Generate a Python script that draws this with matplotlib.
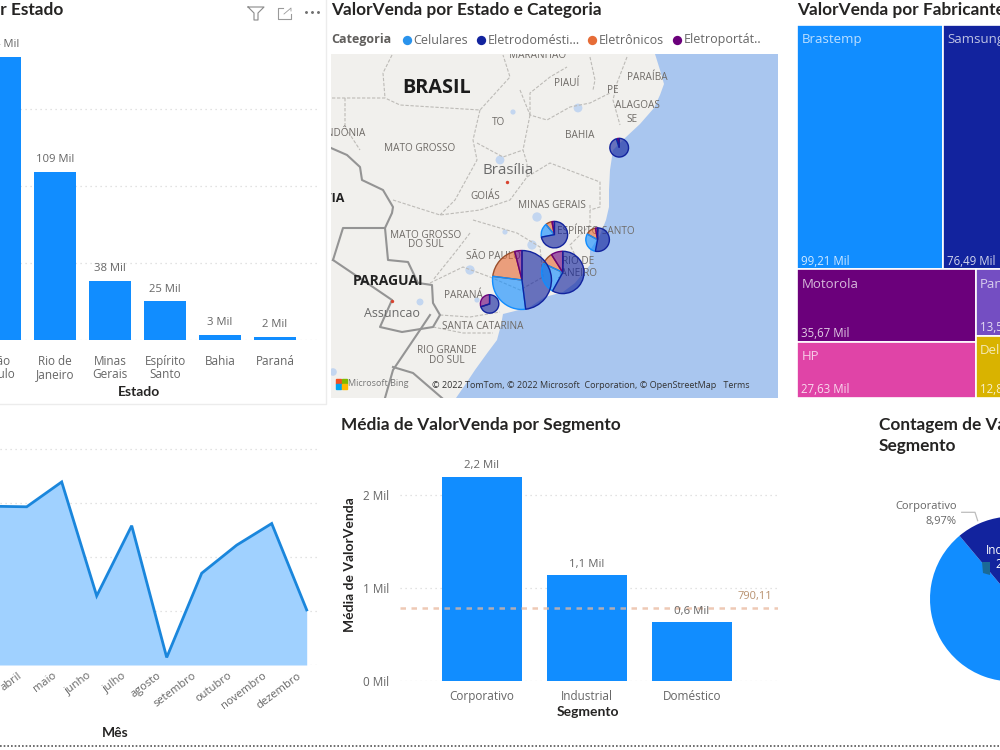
#!/usr/bin/env python3
import matplotlib
matplotlib.use('Agg')  # no GUI
import matplotlib.pyplot as plt
from matplotlib.patches import Polygon, Rectangle

plt.rcParams['font.family'] = ['Open Sans', 'DejaVu Sans']

# -----------------------------
# Data
# -----------------------------
estados = ['São\nPaulo', 'Rio de\nJaneiro', 'Minas\nGerais', 'Espírito\nSanto', 'Bahia', 'Paraná']
estado_valor = [183.6, 109, 38, 25, 3, 2]
estado_rotulo = ['184 Mil', '109 Mil', '38 Mil', '25 Mil', '3 Mil', '2 Mil']

categorias = ['Celulares', 'Eletrodomésti...', 'Eletrônicos', 'Eletroportát..']

# state capitals (lon, lat) and share of each category, in percent
mapa_lon = [-46.6, -43.2, -43.9, -40.3, -38.5, -49.3]
mapa_lat = [-23.5, -22.9, -19.9, -20.3, -13.0, -25.4]
celulares = [29, 24, 17, 30, 1, 0]
eletrodomesticos = [48, 58, 72, 53, 95, 70]
eletronicos = [19, 9, 8, 14, 1, 0]
eletroportateis = [4, 9, 3, 3, 3, 30]

fabricantes = ['Brastemp', 'Samsung', 'Motorola', 'HP', 'Panasonic', 'Dell']
fabricante_valor = [99.21, 76.49, 35.67, 27.63, 13.54, 12.81]
fabricante_rotulo = ['99,21 Mil', '76,49 Mil', '35,67 Mil', '27,63 Mil', '13,54 Mil', '12,81 Mil']

meses = ['março', 'abril', 'maio', 'junho', 'julho', 'agosto', 'setembro', 'outubro', 'novembro', 'dezembro']
mes_valor = [29.4, 29.3, 33.9, 12.8, 25.8, 1.4, 17.0, 22.2, 26.2, 10.2]
mes_grade = [0, 10, 20, 30, 40]

segmentos = ['Corporativo', 'Industrial', 'Doméstico']
segmento_media = [2197, 1140, 634]
segmento_rotulo = ['2,2 Mil', '1,1 Mil', '0,6 Mil']
media_geral = 790.11

contagem_segmentos = ['Doméstico', 'Corporativo', 'Industrial']
contagem_pct = [88.90, 8.97, 2.13]

# -----------------------------
# Styles
# -----------------------------
W, H = 1000, 750
AZUL = '#118dff'
NAVY = '#12239e'
LARANJA = '#e66c37'
ROXO = '#6b007b'
CINZA = '#666666'
GRADE = '#d9d9d9'
TITULO = '#252423'
fab_cores = [AZUL, NAVY, ROXO, '#e044a7', '#744ec2', '#d9b300']
TITLE_FONT = dict(family='Lato', fontsize=12.4, fontweight='bold', color=TITULO, va='center')
AXIS_FONT = dict(family='Lato', fontsize=10, fontweight='bold', color=TITULO, ha='center', va='center')

fig = plt.figure(figsize=(W / 100, H / 100), dpi=100, facecolor='white')


def px_axes(left, top, right, bottom, **kw):
    # axes placed from pixel coordinates of the picture
    return fig.add_axes([left / W, 1 - bottom / H, (right - left) / W, (bottom - top) / H], **kw)


def clean(ax):
    for s in ax.spines.values():
        s.set_visible(False)
    ax.tick_params(length=0, labelcolor=CINZA, labelsize=8.5)
    ax.set_facecolor('none')


page = px_axes(0, 0, W, H, zorder=5)
page.set_xlim(0, W)
page.set_ylim(H, 0)
page.axis('off')

# -----------------------------
# ValorVenda por Estado
# -----------------------------
ax = px_axes(0, 40, 320, 340)
clean(ax)
pos = list(range(len(estados)))
bars = ax.bar(pos, estado_valor, width=0.775, color=AZUL, zorder=2)
ax.bar_label(bars, labels=estado_rotulo, padding=5, fontsize=8.1, color=CINZA)
ax.set_xlim(0, 320 / 55)
ax.set_ylim(0, 300 / 1.541)
ax.set_xticks(pos, estados, linespacing=1.05)
ax.tick_params(axis='x', pad=10.5)
ax.set_yticks([0, 50, 100, 150], [])
ax.grid(axis='y', color=GRADE, linestyle=(0, (1, 3)), linewidth=0.9, zorder=0)
page.text(63, 9.5, 'ValorVenda por Estado', ha='right', **TITLE_FONT)
page.text(139, 391.5, 'Estado', **AXIS_FONT)

# card border and header icons
page.plot([325.5, 325.5, 0], [0, 403.5, 403.5], color='#ececec', lw=1)
page.plot([248, 264, 258, 258, 254, 254, 248], [7, 7, 13, 20, 20, 13, 7], color='#8a8a8a', lw=0.8)
page.plot([283, 278, 278, 291, 291], [8, 8, 19, 19, 14], color='#9a9a9a', lw=0.8)
page.plot([284, 291, 291], [14, 8, 11], color='#9a9a9a', lw=0.6)
page.scatter([306, 312, 318], [12, 12, 12], s=1.2, color='#707070')

# -----------------------------
# ValorVenda por Estado e Categoria
# -----------------------------
page.text(331, 9.5, 'ValorVenda por Estado e Categoria', ha='left', **TITLE_FONT)
page.text(331, 40, 'Categoria', family='Open Sans', fontsize=9, fontweight='bold', color='#605e5c', va='center')
leg_x = [406.7, 480.7, 591.7, 677]
for lx, nome, cor in zip(leg_x, categorias, ['#2a93ec', NAVY, LARANJA, ROXO]):
    page.scatter([lx], [40], s=45, color=cor, linewidths=0)
    page.text(lx + 7, 40, nome, fontsize=9, color=CINZA, va='center')

mp = px_axes(331, 54, 778, 398, zorder=2)
mp.set_facecolor('#a9c6ef')
costa = [(655, 54), (660, 70), (664, 84), (660, 95), (654, 108), (640, 124), (625, 138), (613, 150),
         (610, 170), (609, 190), (609, 207), (606, 220), (600, 235), (590, 250), (590, 265), (575, 283),
         (563, 292), (545, 297), (530, 307), (515, 311), (503, 314), (501, 325), (497, 340), (488, 352),
         (475, 370), (465, 385), (456, 398), (331, 398), (331, 54)]
mp.add_patch(Polygon(costa, closed=True, facecolor='#f1f0ed', edgecolor='none'))

# lakes and rivers
mp.scatter([513, 500, 578, 537, 532, 470, 420, 505, 477, 333],
           [112, 160, 108, 217, 245, 270, 302, 232, 300, 372],
           s=[14, 40, 40, 45, 45, 45, 25, 14, 14, 30], color='#c3d6f0', linewidths=0, zorder=2)

estaduais = [
    [(332, 98), (385, 98), (400, 105), (480, 110), (510, 77), (503, 55)],
    [(392, 55), (383, 73), (385, 98)],
    [(345, 98), (345, 127), (360, 150)],
    [(480, 110), (473, 140), (477, 160), (455, 200), (440, 215)],
    [(530, 115), (523, 150), (527, 163), (527, 177)],
    [(477, 143), (503, 157), (523, 150)],
    [(520, 90), (530, 115), (547, 120), (570, 107), (590, 103), (610, 93)],
    [(530, 115), (530, 93), (550, 77), (567, 67)],
    [(590, 57), (595, 80), (593, 90)],
    [(627, 57), (617, 83), (613, 100), (620, 125)],
    [(527, 177), (550, 163), (600, 182), (600, 207), (590, 210)],
    [(393, 200), (440, 215), (480, 210), (510, 200), (527, 177)],
    [(470, 233), (457, 250), (433, 280)],
    [(430, 283), (463, 267), (490, 277)],
    [(440, 315), (470, 317), (500, 312)],
    [(433, 327), (463, 333), (493, 333)],
    [(590, 205), (590, 225), (570, 245), (575, 255)],
    [(473, 220), (517, 233), (540, 247), (543, 277)],
    [(490, 277), (520, 290), (543, 277)],
]
for linha in estaduais:
    mp.plot(*zip(*linha), color='#bdbbb7', lw=0.8, linestyle=(0, (3, 1.5)), zorder=3)

fronteiras = [
    [(331, 148), (347, 155), (360, 167), (362, 180), (383, 190), (393, 207), (392, 213), (385, 228), (343, 228), (333, 260)],
    [(333, 260), (367, 283), (392, 300), (380, 327), (402, 332), (433, 327), (440, 315), (433, 303), (432, 285), (418, 283),
     (408, 262), (388, 260), (385, 228)],
    [(430, 315), (420, 330), (393, 370), (385, 398)],
    [(393, 367), (413, 373), (442, 398)],
]
for linha in fronteiras:
    mp.plot(*zip(*linha), color='#949494', lw=1.5, zorder=3)

rotulos_mapa = [
    ('MARANHÃO', 538, 56), ('PARAÍBA', 647.7, 78), ('PIAUÍ', 567, 84), ('PE', 613, 90.7), ('ALAGOAS', 637.7, 105),
    ('SE', 631.7, 120), ('TO', 499, 122.7), ('BAHIA', 580, 136), ('MATO GROSSO', 420, 148.7), ('GOIÁS', 485, 196.7),
    ('MINAS GERAIS', 552, 205), ('MATO GROSSO', 426, 235), ('DO SUL', 426, 245), ('SÃO PAULO', 493, 256.7),
    ('ESPÍRITO SANTO', 595.7, 231.7), ('RIO DE', 578, 261.7), ('JANEIRO', 578, 273), ('PARANÁ', 463, 296),
    ('SANTA CATARINA', 483, 326.7), ('RIO GRANDE', 446.7, 351), ('DO SUL', 446.7, 361),
]
for nome, x, y in rotulos_mapa:
    mp.text(x, y, nome, fontsize=7.2, fontweight='medium', color='#6e6a66', ha='center', va='center', clip_on=True, zorder=4)
mp.text(365, 134, 'RONDÔNIA', fontsize=7.2, color='#6e6a66', ha='right', va='center', clip_on=True, zorder=4)
mp.text(345, 198, 'BOLÍVIA', fontsize=9, fontweight='bold', color='#222222', ha='right', va='center', clip_on=True, zorder=4)
mp.text(436.7, 88, 'BRASIL', fontsize=14.3, fontweight='bold', color='#1c1c1c', ha='center', va='center', zorder=4)
mp.text(388, 280.7, 'PARAGUAI', fontsize=10, fontweight='bold', color='#222222', ha='center', va='center', zorder=4)
mp.text(507.7, 170, 'Brasília', fontsize=10.8, color='#6a6a6a', ha='center', va='center', zorder=4)
mp.text(391.7, 314, 'Assuncao', fontsize=9, color='#6a6a6a', ha='center', va='center', zorder=4)
mp.scatter([507, 392], [182, 301], s=6, color='#d8432f', linewidths=0, zorder=4)

# y axis is inverted here, so this start and direction run clockwise from the top on screen
pie_alpha = 0.62
cores = [NAVY, AZUL, LARANJA, ROXO]
bordas = [NAVY, AZUL, '#9a4f2c', ROXO]
for i in range(len(mapa_lon)):
    cx = 522 + 12.0 * (mapa_lon[i] + 46.6)
    cy = 280 - 12.6 * (mapa_lat[i] + 23.5)
    raio = 9 + 0.1115 * estado_valor[i]
    shares = [eletrodomesticos[i], celulares[i], eletronicos[i], eletroportateis[i]]
    wedges, _ = mp.pie(shares, colors=cores, center=(cx, cy), radius=raio, startangle=270,
                       counterclock=True, frame=True, wedgeprops=dict(linewidth=0))
    for w in wedges:
        w.set_zorder(6)
        w.set_alpha(pie_alpha)
    edges, _ = mp.pie(shares, colors=['none'] * 4, center=(cx, cy), radius=raio, startangle=270,
                      counterclock=True, frame=True, wedgeprops=dict(linewidth=1.0, fill=False))
    # later zorder for navy so its radial lines stay on top
    for z, (w, cor) in zip([7.4, 7.2, 7.1, 7.3], zip(edges, bordas)):
        w.set_edgecolor(cor)
        w.set_zorder(z)
mp.set_xlim(331, 778)
mp.set_ylim(398, 54)
mp.set_xticks([])
mp.set_yticks([])
for s in mp.spines.values():
    s.set_visible(False)

mp.text(432, 386, '© 2022 TomTom, © 2022 Microsoft  Corporation, © OpenStreetMap   Terms', fontsize=6.5,
        color='#333333', va='center', zorder=8)
mp.text(348, 384, 'Microsoft Bing', fontsize=6.5, color='#777777', va='center', zorder=8)
for (lx, ly), cor in zip([(336, 379), (341.5, 379), (336, 384.5), (341.5, 384.5)],
                         ['#f25022', '#7fba00', '#00a4ef', '#ffb900']):
    mp.add_patch(Rectangle((lx, ly), 5, 5, color=cor, zorder=8))

# -----------------------------
# ValorVenda por Fabricante (treemap)
# -----------------------------
page.text(797, 9.5, 'ValorVenda por Fabricante', ha='left', **TITLE_FONT)
tm = px_axes(797, 24.5, 1055, 398, zorder=2)
tm.axis('off')
tm.set_xlim(797, 1055)
tm.set_ylim(398, 24.5)


def caixa(i, x, y, w, h):
    tm.add_patch(Rectangle((x, y), w, h, facecolor=fab_cores[i], edgecolor='white', linewidth=1.2))
    tm.text(x + 4.5, y + 15, fabricantes[i], fontsize=9.5, color='white', alpha=0.72, va='center', clip_on=False)
    tm.text(x + 4.5, y + h - 8, fabricante_rotulo[i], fontsize=8.3, color='white', alpha=0.8, va='center', clip_on=False)


# top row splits width by value, bottom row splits into two columns
linha1 = fabricante_valor[0] + fabricante_valor[1]
x0, topo, largura, altura = 797, 24.5, 258, 373.5
largura_inf = 253
h1 = 245.0
caixa(0, x0, topo, largura * fabricante_valor[0] / linha1, h1)
caixa(1, x0 + largura * fabricante_valor[0] / linha1, topo, largura * fabricante_valor[1] / linha1, h1)
h2 = altura - h1
col1 = fabricante_valor[2] + fabricante_valor[3]
col2 = fabricante_valor[4] + fabricante_valor[5]
w1 = largura_inf * col1 / (col1 + col2)
caixa(2, x0, topo + h1, w1, h2 * fabricante_valor[2] / col1)
caixa(3, x0, topo + h1 + h2 * fabricante_valor[2] / col1, w1, h2 * fabricante_valor[3] / col1)
caixa(4, x0 + w1, topo + h1, largura_inf - w1, h2 * fabricante_valor[4] / col2)
caixa(5, x0 + w1, topo + h1 + h2 * fabricante_valor[4] / col2, largura_inf - w1, h2 * fabricante_valor[5] / col2)

# -----------------------------
# ValorVenda por Mês (area)
# -----------------------------
ar = px_axes(0, 440, 320, 665)
clean(ar)
mx = list(range(len(meses)))
ar.fill_between(mx, mes_valor, 0, color='#a0d1ff', linewidth=0, zorder=2)
ar.plot(mx, mes_valor, color='#1a86dc', lw=2, zorder=3, solid_joinstyle='miter')
ar.set_xlim(8.3 / 35, 328.3 / 35)
ar.set_ylim(0, 225 / 5.4)
ar.set_xticks([])
for m, nome in zip(mx, meses):
    # labels end up and to the left of their month
    ar.annotate(nome, (m, 0), xytext=(-4.5, -7), textcoords='offset points', rotation=37,
                ha='right', va='center', rotation_mode='anchor', fontsize=8, color=CINZA, annotation_clip=False)
ar.set_yticks(mes_grade, [])
ar.grid(axis='y', color=GRADE, linestyle=(0, (1, 3)), linewidth=0.9, zorder=0)
page.text(115, 733, 'Mês', **AXIS_FONT)

# -----------------------------
# Média de ValorVenda por Segmento
# -----------------------------
page.text(341, 425, 'Média de ValorVenda por Segmento', ha='left', **TITLE_FONT)
sg = px_axes(400, 440, 778, 681.3)
clean(sg)
sx = list(range(len(segmentos)))
sb = sg.bar(sx, segmento_media, width=0.757, color=AZUL, zorder=2)
sg.bar_label(sb, labels=segmento_rotulo, padding=4, fontsize=8.2, color=CINZA, zorder=5)
sg.axhline(media_geral, color='#e9b89c', lw=1.8, linestyle=(0, (2.2, 2.2)), alpha=0.75, zorder=3)
sg.set_xlim((400 - 481.8) / 105, (778 - 481.8) / 105)
sg.set_ylim(0, 241.3 / 0.093)
sg.set_xticks(sx, segmentos)
sg.tick_params(axis='x', pad=6)
sg.set_yticks([0, 1000, 2000], ['0 Mil', '1 Mil', '2 Mil'])
sg.tick_params(axis='y', pad=8)
sg.grid(axis='y', color=GRADE, linestyle=(0, (1, 3)), linewidth=0.9, zorder=0)
page.text(755, 596, '790,11', fontsize=8, color='#b8916f', ha='center', va='center')
page.text(350, 565, 'Média de ValorVenda', rotation=90, **AXIS_FONT)
page.text(588, 712.5, 'Segmento', **AXIS_FONT)

# -----------------------------
# Contagem de ValorVenda por Segmento
# -----------------------------
page.text(879, 425, 'Contagem de ValorVenda por', ha='left', **TITLE_FONT)
page.text(879, 446, 'Segmento', ha='left', **TITLE_FONT)
pz = px_axes(930, 516.5, 1095, 681.5)
pz.pie(contagem_pct, colors=[AZUL, NAVY, LARANJA], startangle=90, counterclock=False, radius=1, frame=True)
pz.set_xlim(-1, 1)
pz.set_ylim(-1, 1)
pz.axis('off')
page.plot([961.7, 975, 977.7], [512.3, 512.3, 520.7], color='#bdbdbd', lw=0.9)
page.text(957, 507, contagem_segmentos[1], fontsize=8, color=CINZA, ha='right', va='center')
page.text(957, 521.5, '8,97%', fontsize=8, color=CINZA, ha='right', va='center')
page.add_patch(Polygon([(982, 562), (990, 562), (990, 575), (983, 573)], closed=True, facecolor='#1b6a96', edgecolor='none'))
page.text(986, 550.5, contagem_segmentos[2], fontsize=8.5, color='white', ha='left', va='center')
page.text(995, 565, '2,13%', fontsize=8.5, color='white', ha='left', va='center')

# page separator at the bottom
page.plot([0, W], [745.7, 745.7], color='#555555', lw=1.2, linestyle=(0, (1, 1.2)))

fig.savefig('out.png', dpi=100)
